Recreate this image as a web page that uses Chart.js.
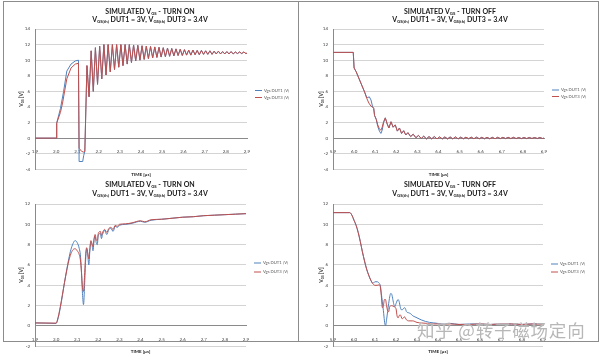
<!DOCTYPE html>
<html>
<head>
<meta charset="utf-8">
<script src="https://cdn.jsdelivr.net/npm/chart.js@4.4.1/dist/chart.umd.min.js"></script>
<style>
  html, body { margin: 0; padding: 0; background: #fff; }
  #wrap { position: relative; width: 600px; height: 354px; background: #fff; overflow: hidden; }
  canvas { position: absolute; }
  .line { position: absolute; background: #8c8c8c; }
  #mark { position: absolute; left: 417px; top: 317px; font: 17.5px "Noto Sans CJK SC"; color: rgba(165,165,165,0.8);
          text-shadow: 0 0 1px #fff; white-space: nowrap; letter-spacing: 0.8px; }
</style>
</head>
<body>
<div id="wrap">
  <canvas id="onA" width="300" height="177" style="left:0;top:0"></canvas>
  <canvas id="offA" width="300" height="177" style="left:300px;top:0"></canvas>
  <canvas id="onB" width="300" height="177" style="left:0;top:177px"></canvas>
  <canvas id="offB" width="300" height="177" style="left:300px;top:177px"></canvas>
  <div class="line" style="left:3px;top:1px;width:596px;height:1px"></div>
  <div class="line" style="left:3px;top:341px;width:596px;height:1px"></div>
  <div class="line" style="left:3px;top:1px;width:1px;height:341px"></div>
  <div class="line" style="left:298px;top:1px;width:1px;height:341px"></div>
  <div class="line" style="left:598px;top:1px;width:1px;height:341px"></div>
  <div id="mark">知乎 @转子磁场定向</div>
</div>
<script>
// legend names and tick labels
var seriesNames = ['Vgs DUT1 [V]', 'Vgs DUT3 [V]'];
var xTicksOn = [1.9, 2.0, 2.1, 2.2, 2.3, 2.4, 2.5, 2.6, 2.7, 2.8, 2.9];
var xTicksOff = [5.9, 6.0, 6.1, 6.2, 6.3, 6.4, 6.5, 6.6, 6.7, 6.8, 6.9];

// top left: turn on, [time us, Vgs]
var onA_dut1 = [[1.9,0],[2.0,0],[2.003,2.0],[2.02,3.8],[2.035,6.0],[2.05,8.6],[2.07,9.5],[2.09,9.9],[2.105,10.0],
  [2.108,-3.0],[2.125,-3.0],[2.13,-2.2],[2.135,-1.7]];
var onA_dut3 = [[1.9,0],[2.0,0],[2.002,1.9],[2.02,3.3],[2.03,4.5],[2.05,7.6],[2.07,9.0],[2.09,9.5],[2.105,9.6],
  [2.108,-1.3],[2.12,-1.7],[2.13,-1.8],[2.135,-1.7]];
var onA_ring = [[2.145,9.3],[2.155,5.3],[2.165,11.2],[2.175,6.0],[2.185,11.6],[2.195,6.9],[2.205,11.8],[2.215,7.6],
  [2.225,12.0],[2.235,8.1],[2.245,12.0],[2.255,8.5],[2.265,12.0],[2.275,8.8],[2.285,12.0],[2.295,9.1],[2.305,12.0],
  [2.315,9.3],[2.325,12.0],[2.335,9.5],[2.345,12.0],[2.355,9.7],[2.365,11.95],[2.375,9.9],[2.385,11.9],[2.395,10.0],
  [2.405,11.85],[2.415,10.1],[2.425,11.8],[2.435,10.2],[2.445,11.75],[2.455,10.3],[2.465,11.7],[2.475,10.35],
  [2.485,11.65],[2.495,10.4],[2.505,11.6],[2.515,10.45],[2.525,11.55],[2.535,10.5],[2.545,11.5],[2.555,10.55],
  [2.565,11.45],[2.575,10.6],[2.585,11.4],[2.595,10.6],[2.605,11.35],[2.615,10.65],[2.625,11.3],[2.635,10.65],
  [2.645,11.3],[2.655,10.7],[2.665,11.25],[2.675,10.7],[2.685,11.25],[2.695,10.75],[2.705,11.2],[2.715,10.75],
  [2.725,11.2],[2.735,10.75],[2.745,11.15],[2.755,10.8],[2.765,11.15],[2.775,10.8],[2.785,11.1],[2.795,10.8],
  [2.805,11.1],[2.815,10.8],[2.825,11.1],[2.835,10.8],[2.845,11.05],[2.855,10.85],[2.865,11.05],[2.875,10.85],
  [2.885,11.05],[2.895,10.85],[2.9,10.9]];

// top right: turn off
var offA_dut1 = [[5.9,11],[5.996,11],[6.0,9.0],[6.01,8.5],[6.03,7.2],[6.05,5.9],[6.06,5.2],[6.065,5.2],[6.072,5.3],
  [6.08,4.9],[6.088,4.0],[6.093,3.8],[6.097,2.9],[6.105,2.4],[6.112,1.5],[6.12,0.9],[6.127,0.6],[6.133,1.0],
  [6.14,2.0],[6.148,2.6]];
var offA_dut3 = [[5.9,11],[5.996,11],[6.0,9.0],[6.01,8.5],[6.03,7.2],[6.05,5.9],[6.06,5.1],[6.07,4.5],[6.08,4.1],
  [6.088,4.0],[6.093,3.8],[6.097,2.9],[6.105,2.4],[6.112,1.7],[6.12,1.2],[6.127,1.0],[6.133,1.4],[6.14,2.1],
  [6.148,2.6]];
var offA_tail = [[6.157,1.8],[6.165,1.3],[6.175,2.1],[6.185,1.4],[6.195,1.7],[6.205,0.9],[6.215,1.3],[6.225,0.6],
  [6.235,0.95],[6.245,0.4],[6.255,0.7],[6.268,0.2],[6.28,0.5],[6.293,0.05],[6.305,0.35],[6.318,-0.05],[6.33,0.25],
  [6.343,-0.1],[6.355,0.2],[6.368,-0.1],[6.38,0.2],[6.393,-0.1],[6.405,0.15],[6.418,-0.1],[6.43,0.15],[6.443,-0.1],
  [6.455,0.15],[6.468,-0.1],[6.48,0.15],[6.493,-0.1],[6.505,0.12],[6.518,-0.08],[6.53,0.12],[6.543,-0.08],
  [6.555,0.12],[6.568,-0.08],[6.58,0.12],[6.593,-0.08],[6.605,0.1],[6.618,-0.08],[6.63,0.1],[6.643,-0.08],
  [6.655,0.1],[6.668,-0.08],[6.68,0.1],[6.693,-0.06],[6.705,0.1],[6.718,-0.06],[6.73,0.1],[6.743,-0.06],
  [6.755,0.1],[6.768,-0.06],[6.78,0.08],[6.793,-0.06],[6.805,0.08],[6.818,-0.06],[6.83,0.08],[6.843,-0.05],
  [6.855,0.08],[6.868,-0.05],[6.88,0.08],[6.893,-0.05],[6.9,0.0]];

// bottom left: turn on
var onB_dut1 = [[1.9,0.3],[1.95,0.28],[2.0,0.25],[2.01,0.8],[2.02,1.8],[2.03,3.0],[2.04,4.3],[2.05,5.5],[2.06,6.6],
  [2.07,7.5],[2.08,8.1],[2.09,8.4],[2.1,8.2],[2.11,7.6],[2.115,7.0],[2.12,5.5],[2.125,3.2],[2.13,2.1],[2.135,4.0],
  [2.14,6.5],[2.145,7.6],[2.15,7.0],[2.155,6.0],[2.16,7.4],[2.165,8.3],[2.17,8.0],[2.175,7.4],[2.18,8.5],[2.185,8.8],
  [2.19,8.2],[2.195,8.0],[2.2,8.9],[2.21,9.1],[2.215,8.6],[2.22,9.0],[2.23,9.4],[2.24,9.0],[2.25,9.5],[2.26,9.6],
  [2.27,9.3],[2.28,9.8],[2.29,9.7],[2.3,9.9],[2.33,10.0],[2.36,10.1],[2.4,10.3],[2.42,10.2],[2.45,10.4],[2.5,10.5],
  [2.55,10.6],[2.6,10.7],[2.65,10.75],[2.7,10.85],[2.75,10.9],[2.8,10.95],[2.85,11.0],[2.9,11.05]];
var onB_dut3 = [[1.9,0.3],[2.0,0.28],[2.01,0.9],[2.02,1.9],[2.03,3.1],[2.04,4.3],[2.05,5.4],[2.06,6.4],[2.07,7.1],
  [2.08,7.5],[2.09,7.6],[2.1,7.4],[2.11,7.0],[2.115,6.5],[2.12,5.3],[2.125,3.8],[2.13,3.4],[2.135,5.0],[2.14,7.0],
  [2.145,7.7],[2.15,7.2],[2.155,6.6],[2.16,7.6],[2.165,8.4],[2.17,8.1],[2.175,7.8],[2.18,8.6],[2.185,9.0],[2.19,8.5],
  [2.195,8.4],[2.2,9.1],[2.21,9.3],[2.215,8.9],[2.22,9.2],[2.23,9.5],[2.24,9.2],[2.25,9.6],[2.26,9.7],[2.27,9.5],
  [2.28,9.9],[2.29,9.8],[2.3,10.0],[2.33,10.05],[2.36,10.15],[2.4,10.35],[2.42,10.25],[2.45,10.45],[2.5,10.5],
  [2.55,10.6],[2.6,10.7],[2.65,10.75],[2.7,10.85],[2.75,10.9],[2.8,10.95],[2.85,11.0],[2.9,11.05]];

// bottom right: turn off
var offB_head = [[5.9,11.15],[5.98,11.15],[5.99,10.9],[6.0,10.4],[6.01,9.9],[6.02,9.2],[6.03,8.3],[6.04,7.3],
  [6.05,6.4],[6.06,5.6],[6.07,5.0],[6.08,4.5]];
var offB_dut1 = [[6.09,4.2],[6.1,4.35],[6.11,4.35],[6.12,4.2],[6.125,4.0],[6.13,3.2],[6.14,1.5],[6.145,0.5],[6.15,0.0],
  [6.155,0.6],[6.165,2.2],[6.175,3.2],[6.18,3.1],[6.185,2.6],[6.19,2.1],[6.195,1.9],[6.2,2.2],[6.21,2.6],[6.215,2.4],
  [6.22,1.9],[6.225,1.6],[6.23,1.6],[6.24,1.8],[6.245,1.7],[6.25,1.4],[6.26,1.3],[6.27,1.2],[6.28,1.0],[6.29,0.9],
  [6.3,0.8],[6.32,0.6],[6.34,0.45],[6.36,0.35],[6.38,0.3],[6.4,0.25],[6.43,0.2],[6.46,0.25],[6.5,0.15],[6.55,0.2],
  [6.6,0.2],[6.65,0.15],[6.7,0.2],[6.75,0.2],[6.8,0.15],[6.85,0.2],[6.9,0.2]];
var offB_dut3 = [[6.09,4.15],[6.1,4.0],[6.11,4.0],[6.12,4.05],[6.125,3.9],[6.13,3.0],[6.135,1.8],[6.14,2.0],
  [6.145,2.6],[6.15,2.6],[6.155,2.0],[6.16,1.5],[6.165,1.4],[6.17,1.9],[6.18,2.0],[6.19,1.9],[6.2,1.7],[6.205,1.0],
  [6.21,0.8],[6.215,1.0],[6.22,1.1],[6.23,0.7],[6.24,0.9],[6.25,0.6],[6.26,0.5],[6.28,0.5],[6.3,0.35],[6.32,0.3],
  [6.35,0.25],[6.38,0.2],[6.4,0.2],[6.43,0.15],[6.46,0.2],[6.5,0.15],[6.55,0.15],[6.6,0.2],[6.65,0.15],[6.7,0.2],
  [6.75,0.2],[6.8,0.15],[6.85,0.2],[6.9,0.15]];

var titleOn = ['SIMULATED V', 'GS', ' - TURN ON'];
var titleOff = ['SIMULATED V', 'GS', ' - TURN OFF'];
var subTitle = ['V', 'GS(th)', ' DUT1 = 3V, V', 'GS(th)', ' DUT3 = 3.4V'];

var FONT = 'Lato, "Open Sans", sans-serif';
var BLUE = '#4F81BD', RED = '#C0504D';

function toXY(arr) {
  return arr.map(function (p) { return { x: p[0], y: p[1] }; });
}

// draws text where every odd part is a subscript
function drawRich(ctx, parts, x, y, size, weight) {
  var widths = [], total = 0;
  parts.forEach(function (t, i) {
    ctx.font = weight + ' ' + (i % 2 ? size * 0.62 : size) + 'px ' + FONT;
    var w = ctx.measureText(t).width;
    widths.push(w);
    total += w;
  });
  var cx = x - total / 2;
  ctx.textAlign = 'left';
  ctx.textBaseline = 'middle';
  parts.forEach(function (t, i) {
    ctx.font = weight + ' ' + (i % 2 ? size * 0.62 : size) + 'px ' + FONT;
    ctx.fillText(t, cx, i % 2 ? y + size * 0.3 : y);
    cx += widths[i];
  });
}

var panelText = {
  id: 'panelText',
  afterDraw: function (chart, args, o) {
    var ctx = chart.ctx, a = chart.chartArea;
    ctx.save();
    ctx.fillStyle = '#1a1a1a';
    drawRich(ctx, o.title, 150, o.t1y, 7, 'bold');
    drawRich(ctx, subTitle, 150, o.t2y, 7, 'bold');

    ctx.save();
    ctx.translate(21, (a.top + a.bottom) / 2);
    ctx.rotate(-Math.PI / 2);
    drawRich(ctx, ['V', 'GS', ' [V]'], 0, 0, 5, 'bold');
    ctx.restore();

    ctx.font = 'bold 4.5px ' + FONT;
    ctx.textAlign = 'center';
    ctx.textBaseline = 'middle';
    ctx.fillText('TIME [µs]', (a.left + a.right) / 2, a.bottom + 5);

    chart.data.datasets.forEach(function (ds, i) {
      var y = o.legendY + i * o.legendGap;
      ctx.strokeStyle = ds.borderColor;
      ctx.lineWidth = 1;
      ctx.beginPath();
      ctx.moveTo(a.right + 8, y);
      ctx.lineTo(a.right + 15, y);
      ctx.stroke();
      ctx.fillStyle = '#555';
      ctx.font = '4.2px ' + FONT;
      ctx.textAlign = 'left';
      ctx.fillText(ds.label, a.right + 17, y);
    });
    ctx.restore();
  }
};

function makePanel(id, p) {
  var ctx = document.getElementById(id).getContext('2d');
  return new Chart(ctx, {
    type: 'line',
    data: {
      datasets: [
        // red is drawn over blue, as in the original
        { label: seriesNames[0], data: toXY(p.dut1), borderColor: BLUE, order: 1 },
        { label: seriesNames[1], data: toXY(p.dut3), borderColor: RED, order: 0 }
      ]
    },
    options: {
      responsive: false,
      animation: false,
      layout: { padding: { left: 0, top: p.top, right: p.right, bottom: 0 } },
      elements: {
        point: { radius: 0 },
        line: { borderWidth: 1, tension: p.tension, cubicInterpolationMode: p.mode }
      },
      plugins: {
        legend: { display: false },
        tooltip: { enabled: false },
        panelText: { title: p.title, t1y: p.t1y, t2y: p.t2y, legendY: p.legendY, legendGap: p.legendGap }
      },
      scales: {
        x: {
          type: 'linear',
          position: { y: 0 },
          min: p.xTicks[0],
          max: p.xTicks[p.xTicks.length - 1],
          afterBuildTicks: function (s) { s.ticks = p.xTicks.map(function (v) { return { value: v }; }); },
          afterFit: function (s) { s.height = p.xHeight; },
          grid: { display: false },
          border: { display: true, color: '#8a8a8a', width: 1 },
          ticks: {
            padding: 3, maxRotation: 0, autoSkip: false, color: '#444',
            font: { family: FONT, size: 4.5 },
            callback: function (v) { return Number(v).toFixed(1); }
          }
        },
        y: {
          min: p.yMin,
          max: p.yMax,
          afterFit: function (s) { s.width = p.yWidth; },
          grid: { color: '#d4d4d4', lineWidth: 1, drawTicks: false },
          border: { display: true, color: '#8a8a8a', width: 1 },
          ticks: { stepSize: 2, padding: 5, color: '#444', font: { family: FONT, size: 4.5 } }
        }
      }
    },
    plugins: [panelText]
  });
}

makePanel('onA', {
  dut1: onA_dut1.concat(onA_ring), dut3: onA_dut3.concat(onA_ring), xTicks: xTicksOn,
  yMin: -4, yMax: 14, top: 29, right: 53, yWidth: 35, xHeight: 27,
  title: titleOn, t1y: 12, t2y: 20, legendY: 90.5, legendGap: 7, tension: 0, mode: 'default'
});
makePanel('offA', {
  dut1: offA_dut1.concat(offA_tail), dut3: offA_dut3.concat(offA_tail), xTicks: xTicksOff,
  yMin: -4, yMax: 14, top: 29, right: 56, yWidth: 33, xHeight: 27,
  title: titleOff, t1y: 12, t2y: 20, legendY: 90, legendGap: 6.5, tension: 0, mode: 'default'
});
makePanel('onB', {
  dut1: onB_dut1, dut3: onB_dut3, xTicks: xTicksOn,
  yMin: -2, yMax: 12, top: 27, right: 54, yWidth: 35, xHeight: 28,
  title: titleOn, t1y: 8, t2y: 17, legendY: 86, legendGap: 9, tension: 0, mode: 'monotone'
});
makePanel('offB', {
  dut1: offB_head.concat(offB_dut1), dut3: offB_head.concat(offB_dut3), xTicks: xTicksOff,
  yMin: -2, yMax: 12, top: 27, right: 57, yWidth: 33, xHeight: 28,
  title: titleOff, t1y: 8, t2y: 17, legendY: 87, legendGap: 8, tension: 0, mode: 'monotone'
});
</script>
</body>
</html>
